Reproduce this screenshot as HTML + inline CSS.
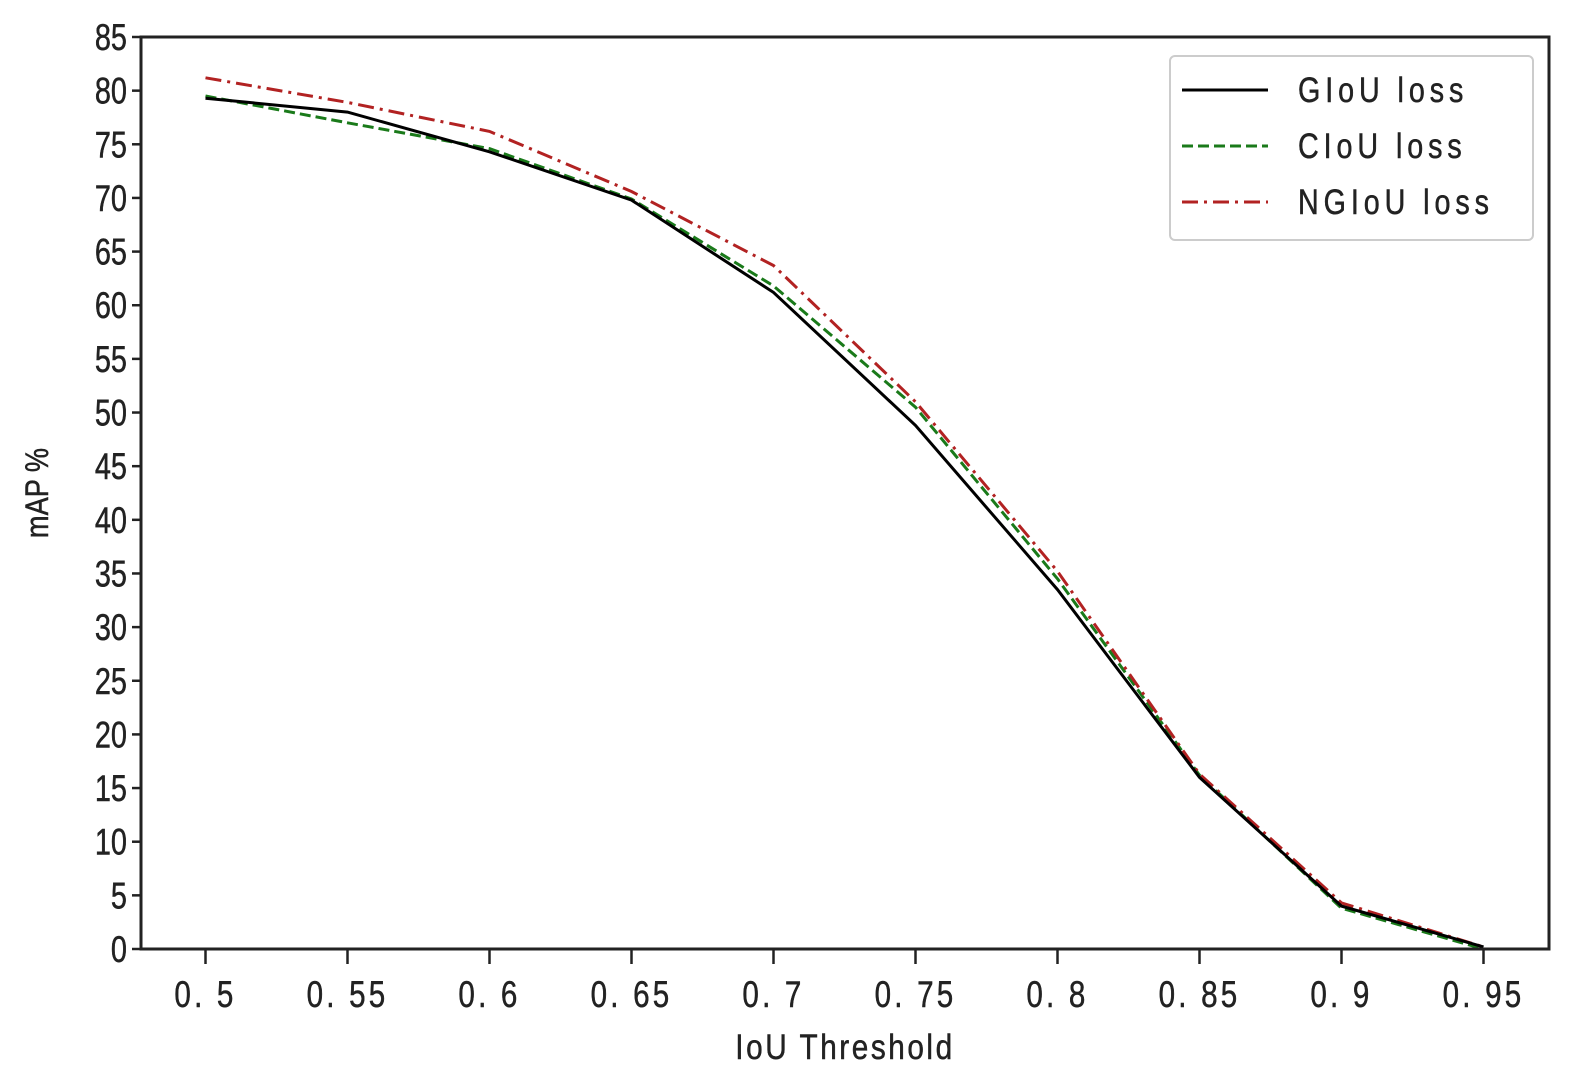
<!DOCTYPE html>
<html><head><meta charset="utf-8"><style>
html,body{margin:0;padding:0;background:#fff;}
svg text{font-family:"Liberation Sans","DejaVu Sans",sans-serif;fill:#222;stroke:#222;stroke-width:0.5;}
</style></head><body>
<svg width="1577" height="1087" viewBox="0 0 1577 1087" xmlns="http://www.w3.org/2000/svg">
<rect width="1577" height="1087" fill="#fff"/>
<g id="plot"></g>
<script>
const L=141,R=1549,T=37,B=949;
const xs=v=>205.5+(v-0.5)/0.05*142.0;
const ys=v=>B-(v/85)*(B-T);
const g=document.getElementById('plot');
const NS='http://www.w3.org/2000/svg';
function el(n,a,t){const e=document.createElementNS(NS,n);for(const k in a)e.setAttribute(k,a[k]);if(t!==undefined)e.textContent=t;g.appendChild(e);return e;}
for(let v=0;v<=85;v+=5){const y=ys(v);el('line',{x1:L-9,y1:y,x2:L,y2:y,stroke:'#222','stroke-width':2.5});
 el('text',{x:L-14,y:y+13,'text-anchor':'end','font-size':37,transform:`translate(${L-14} 0) scale(0.78 1) translate(${-(L-14)} 0)`},String(v));}
const xl=['0.5','0.55','0.6','0.65','0.7','0.75','0.8','0.85','0.9','0.95'];
xl.forEach((s,i)=>{const x=xs(0.5+i*0.05);el('line',{x1:x,y1:B,x2:x,y2:B+15,stroke:'#222','stroke-width':2.5});
 el('text',{x:x,y:1007,'text-anchor':'middle','font-size':37,'letter-spacing':'4',transform:`translate(${x} 0) scale(0.8 1) translate(${-x} 0)`},s.replace('.','. '));});
el('text',{x:845,y:1059,'text-anchor':'middle','font-size':35,'letter-spacing':'3',transform:'translate(845 0) scale(0.85 1) translate(-845 0)'},'IoU Threshold');
el('text',{x:0,y:0,'text-anchor':'middle','font-size':32,transform:'translate(48 493) rotate(-90) scale(0.85 1)'},'mAP %');
const X=[0.5,0.55,0.6,0.65,0.7,0.75,0.8,0.85,0.9,0.95];
const G=[79.3,78,74.3,69.8,61.2,48.8,33.5,16,4,0.2];
const C=[79.5,77,74.6,69.9,61.8,50.5,34.5,16.2,3.8,0];
const N=[81.2,78.9,76.2,70.6,63.7,51,35.2,16.3,4.3,0.2];
function pts(d){return d.map((v,i)=>xs(X[i]).toFixed(1)+','+ys(v).toFixed(1)).join(' ');}
el('polyline',{points:pts(C),fill:'none',stroke:'#1a7a1a','stroke-width':3,'stroke-dasharray':'11 5'});
el('polyline',{points:pts(N),fill:'none',stroke:'#b22222','stroke-width':3,'stroke-dasharray':'16 6 3 6'});
el('polyline',{points:pts(G),fill:'none',stroke:'#000','stroke-width':3});
el('rect',{x:L,y:T,width:R-L,height:B-T,fill:'none',stroke:'#222','stroke-width':3});
el('rect',{x:1170,y:56,width:363,height:184,rx:5,fill:'#fff',stroke:'#ccc','stroke-width':2});
const items=[['GIoU loss','#000','none'],['CIoU loss','#1a7a1a','11 5'],['NGIoU loss','#b22222','16 6 3 6']];
items.forEach((it,i)=>{const y=90+i*56;el('line',{x1:1182,y1:y,x2:1268,y2:y,stroke:it[1],'stroke-width':3,'stroke-dasharray':it[2]});
 el('text',{x:1298,y:y+12,'font-size':35,'letter-spacing':'6',transform:'translate(1298 0) scale(0.82 1) translate(-1298 0)'},it[0]);});
</script>
</svg>
</body></html>
